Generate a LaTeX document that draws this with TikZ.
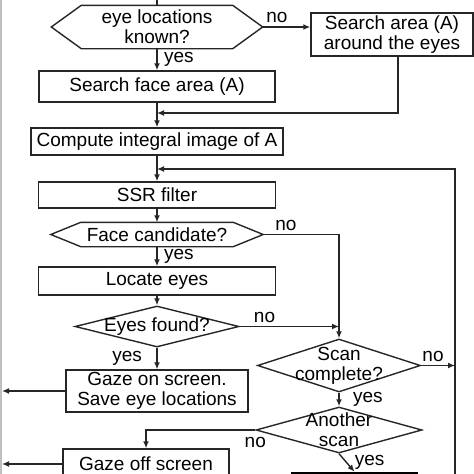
\documentclass[tikz,border=0pt]{standalone}
\usepackage{fontspec}
\setmainfont{Liberation Sans}
\usetikzlibrary{shapes.geometric,arrows.meta}

\tikzset{
  box/.style={draw, rectangle, inner sep=0pt, align=center},
  hexbox/.style={rectangle, inner sep=0pt, align=center},
  decision/.style={draw, diamond, inner sep=0pt},
  flow/.style={-{Latex[length=7pt,width=6pt]}},
}
% outline of a hexagon round a node: name, depth of the points
\newcommand{\hexframe}[2]{%
  \coordinate (#1-r) at ([xshift=#2]#1.east);
  \coordinate (#1-l) at ([xshift=-#2]#1.west);
  \draw (#1.north west) -- (#1.north east) -- (#1-r)
    -- (#1.south east) -- (#1.south west) -- (#1-l) -- cycle;}

\begin{document}
\begin{tikzpicture}[x=1pt, y=-1pt, line width=1.4pt, draw=black!85,
    font=\fontsize{19}{20}\selectfont]
    \clip (0,0) rectangle (474,474);
    % Frame at the left
    \draw[black!25, line width=2.5pt] (1,0) -- (1,474);
    % Boxes and decisions
    \node[hexbox, minimum width=150pt, minimum height=42pt] (known) at (157,27) {eye locations\\known?};
    \hexframe{known}{30pt}
    \node[box, minimum width=162pt, minimum height=43pt] (around) at (392,34.5) {Search area (A)\\around the eyes};
    \node[box, minimum width=236pt, minimum height=31pt] (face) at (157,86.5) {Search face area (A)};
    \node[box, minimum width=252pt, minimum height=27pt] (integral) at (157,141.5) {Compute integral image of A};
    \node[box, minimum width=237pt, minimum height=26pt] (ssr) at (157,195) {SSR filter};
    \node[hexbox, minimum width=151pt, minimum height=23pt] (cand) at (157,234.5) {Face candidate?};
    \hexframe{cand}{30pt}
    \node[box, minimum width=237pt, minimum height=28pt] (locate) at (157,281) {Locate eyes};
    \node[decision, minimum width=164pt, minimum height=41pt, label=center:{Eyes found?}] (found) at (157,326.5) {};
    \node[box, minimum width=182pt, minimum height=42pt] (onscr) at (157,391) {Gaze on screen.\\Save eye locations};
    \node[decision, minimum width=163pt, minimum height=53pt, label={[align=center]center:Scan\\complete?}] (complete) at (339,365.5) {};
    \node[decision, minimum width=166pt, minimum height=46pt, label={[align=center]center:Another\\scan}] (another) at (339,430) {};
    \node[box, minimum width=166pt, minimum height=30pt] (offscr) at (146,464) {Gaze off screen};
    \node[box, line width=2.5pt, draw=black, minimum width=125pt, minimum height=34pt] (nextscan) at (354.5,490) {};
    % Free ends
    \coordinate (start) at (157,0);
    \coordinate (aloop) at (398,113);
    \coordinate (rbot) at (455,474);
    \coordinate (rtop) at (455,169);
    \coordinate (outL) at (2,0);
    % Main column
    \draw (start) -- (known.north);
    \draw[flow] (known-r) -- node[pos=0.3, above] {no} (known-r -| around.west);
    \draw[flow] (known.south) -- node[right, xshift=3pt] {yes} (face.north);
    \draw[flow] (face.south) -- (integral.north);
    \draw[flow] (aloop |- around.south) -- (aloop) -- (aloop -| integral.north);
    \draw[flow] (integral.south) -- (ssr.north);
    \draw[flow] (rbot) -- (rtop) -- (rtop -| ssr.north);
    \draw[flow] (ssr.south) -- (cand.north);
    \draw[flow] (cand-r) -| node[pos=0.15, above] {no} (complete.north);
    \draw[flow] (cand.south) -- node[right, xshift=3pt] {yes} (locate.north);
    \draw[flow] (locate.south) -- (found.north);
    \draw[flow] (found.east) -- node[pos=0.25, above] {no} (found.east -| complete.north);
    \draw[flow] (found.south) -- node[left, xshift=-11pt] {yes} (onscr.north);
    \draw[flow] (onscr.west) -- (onscr.west -| outL);
    % Scan decisions
    \draw[flow] (complete.east) -- node[pos=0.35, above] {no} (complete.east -| rtop);
    \draw[flow] (complete.south) -- node[right, xshift=10pt] {yes} (another.north);
    \draw[flow] (another.west) -| node[pos=0, below, yshift=-3pt] {no} (offscr.north);
    \draw[flow] (another.south) -- node[right, xshift=4pt] {yes} (nextscan.north);
    \draw[flow] (offscr.west) -- (offscr.west -| outL);
\end{tikzpicture}
\end{document}
